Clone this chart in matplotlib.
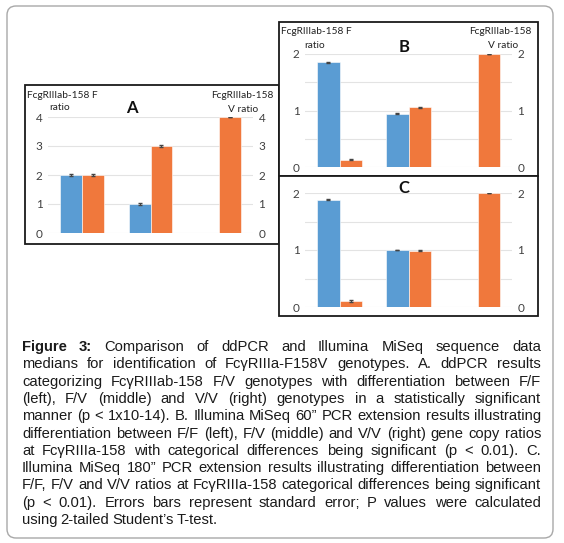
import matplotlib
matplotlib.use("Agg")
import matplotlib.pyplot as plt
from matplotlib.patches import Rectangle, FancyBboxPatch

W, H = 564, 543

categories = ["F/F", "F/V", "V/V"]

# panel A: ddPCR
a_f = [2.0, 1.0, 0.0]
a_v = [2.0, 3.0, 4.0]
a_f_err = [0.02, 0.02, 0.0]
a_v_err = [0.02, 0.03, 0.01]

# panel B: MiSeq 60"
b_f = [1.85, 0.94, 0.0]
b_v = [0.13, 1.06, 2.0]
b_f_err = [0.01, 0.01, 0.0]
b_v_err = [0.01, 0.01, 0.005]

# panel C: MiSeq 180"
c_f = [1.88, 1.0, 0.0]
c_v = [0.11, 0.99, 2.0]
c_f_err = [0.01, 0.005, 0.0]
c_v_err = [0.015, 0.01, 0.005]

caption_lines = [
    "Figure 3: Comparison of ddPCR and Illumina MiSeq sequence data",
    "medians for identification of FcγRIIIa-F158V genotypes. A. ddPCR results",
    "categorizing FcγRIIIab-158 F/V genotypes with differentiation between F/F",
    "(left), F/V (middle) and V/V (right) genotypes in a statistically significant",
    "manner (p < 1x10-14). B. Illumina MiSeq 60” PCR extension results illustrating",
    "differentiation between F/F (left), F/V (middle) and V/V (right) gene copy ratios",
    "at FcγRIIIa-158 with categorical differences being significant (p < 0.01). C.",
    "Illumina MiSeq 180” PCR extension results illustrating differentiation between",
    "F/F, F/V and V/V ratios at FcγRIIIa-158 categorical differences being significant",
    "(p < 0.01). Errors bars represent standard error; P values were calculated",
    "using 2-tailed Student’s T-test.",
]

BLUE = "#5A9CD3"
ORANGE = "#F0783C"
PANEL_FONT = "Lato"


def frac(x0, y0, x1, y1):
    return [x0 / W, 1 - y1 / H, (x1 - x0) / W, (y1 - y0) / H]


def draw_panel(fig, rect, top, step, f, v, ferr, verr):
    ax = fig.add_axes(frac(*rect))
    ax.set_facecolor("none")
    x = list(range(len(categories)))
    bw = 0.32
    xf = [i - bw / 2 for i in x]
    xv = [i + bw / 2 for i in x]
    ax.bar(xf, f, width=bw, color=BLUE, edgecolor="white", linewidth=0.4, zorder=3)
    ax.bar(xv, v, width=bw, color=ORANGE, edgecolor="white", linewidth=0.4, zorder=3)
    keep = [i for i in x if f[i] > 0]
    ax.errorbar([xf[i] for i in keep], [f[i] for i in keep], yerr=[ferr[i] for i in keep],
                fmt="none", ecolor="#444444", elinewidth=0.8, capsize=1.5, zorder=4)
    ax.errorbar(xv, v, yerr=verr, fmt="none", ecolor="#444444",
                elinewidth=0.8, capsize=1.5, zorder=4)
    ax.set_xlim(-0.5, 2.5)
    ax.set_ylim(0, top)
    grid = [i * step for i in range(int(round(top / step)) + 1)]
    for g in grid:
        ax.axhline(g, color="#e3e3e3", lw=0.8, zorder=1)
    ax.set_yticks(list(range(int(top) + 1)))
    ax.set_yticklabels([str(i) for i in range(int(top) + 1)],
                       fontfamily=PANEL_FONT, fontsize=8.5, color="#404040")
    ax.tick_params(axis="y", length=0, pad=4, labelleft=True, labelright=True)
    ax.set_xticks([])
    for s in ax.spines.values():
        s.set_visible(False)
    return ax


fig = plt.figure(figsize=(W / 100, H / 100), dpi=100)
bg = fig.add_axes([0, 0, 1, 1])
bg.set_xlim(0, W)
bg.set_ylim(H, 0)
bg.axis("off")

# outer rounded frame
bg.add_patch(FancyBboxPatch((7, 6), 546, 532, boxstyle="round,pad=0,rounding_size=9",
                            facecolor="white", edgecolor="#a8a8a8", lw=1.0))

# panel frames
for (x0, y0, x1, y1) in [(25, 85, 279, 244), (279, 22, 538, 176), (279, 176, 538, 316)]:
    bg.add_patch(Rectangle((x0, y0), x1 - x0, y1 - y0, facecolor="white",
                           edgecolor="#1a1a1a", lw=1.3))

draw_panel(fig, (48, 117, 253, 233), 4, 1, a_f, a_v, a_f_err, a_v_err)
draw_panel(fig, (305, 54, 512, 167), 2, 0.5, b_f, b_v, b_f_err, b_v_err)
draw_panel(fig, (305, 193, 512, 307), 2, 0.5, c_f, c_v, c_f_err, c_v_err)

lab = dict(fontfamily=PANEL_FONT, fontsize=7.3, color="#222222", va="center")
# panel A labels
bg.text(27, 95, "FcgRIIIab-158 F", ha="left", **lab)
bg.text(60, 107, "ratio", ha="center", **lab)
bg.text(273, 96, "FcgRIIIab-158", ha="right", **lab)
bg.text(243, 109, "V ratio", ha="center", **lab)
bg.text(132, 108, "A", ha="center", va="center", fontfamily=PANEL_FONT,
        fontsize=12, fontweight="bold", color="#111111")
# panel B labels
bg.text(281, 31, "FcgRIIIab-158 F", ha="left", **lab)
bg.text(315, 46, "ratio", ha="center", **lab)
bg.text(532, 31, "FcgRIIIab-158", ha="right", **lab)
bg.text(503, 46, "V ratio", ha="center", **lab)
bg.text(404, 47, "B", ha="center", va="center", fontfamily=PANEL_FONT,
        fontsize=12, fontweight="bold", color="#111111")
bg.text(404, 188, "C", ha="center", va="center", fontfamily=PANEL_FONT,
        fontsize=12, fontweight="bold", color="#111111")

# justified caption
r = fig.canvas.get_renderer()
cap_left, cap_right = 22, 541
y = 347
for n, line in enumerate(caption_lines):
    words = line.split(" ")
    items = []
    for k, w in enumerate(words):
        bold = (n == 0 and k < 2)
        t = bg.text(0, y, w, ha="left", va="center", fontfamily="Liberation Sans",
                    fontsize=10.6, fontweight="bold" if bold else "normal", color="#1a1a1a")
        items.append(t)
    widths = [t.get_window_extent(renderer=r).width for t in items]
    if n < len(caption_lines) - 1 and len(items) > 1:
        gap = (cap_right - cap_left - sum(widths)) / (len(items) - 1)
    else:
        gap = 3.0
    xpos = cap_left
    for t, wdt in zip(items, widths):
        t.set_x(xpos)
        xpos += wdt + gap
    y += 17.3

fig.savefig("out.png", dpi=100)
